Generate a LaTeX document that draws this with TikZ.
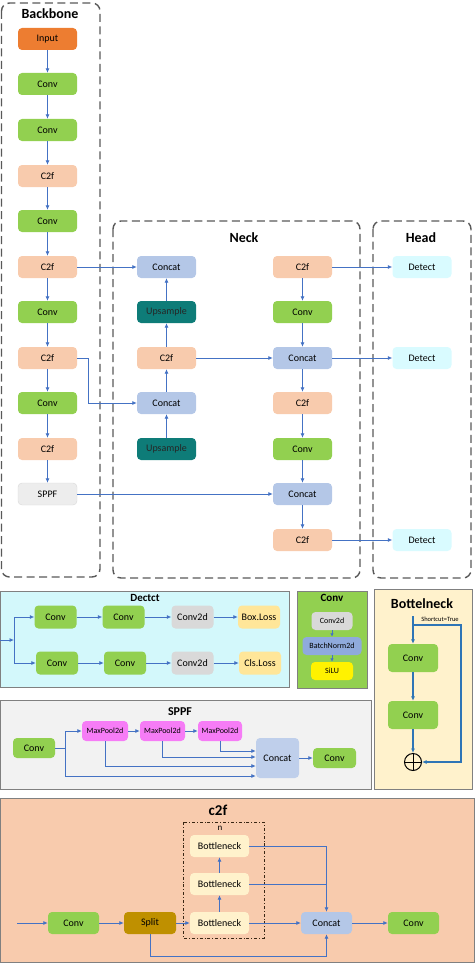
\documentclass[tikz,border=0pt]{standalone}
\usepackage{fontspec}
\setmainfont{Carlito}
\usepackage{tikz}
\usetikzlibrary{arrows.meta,positioning}
\definecolor{convgreen}{HTML}{92D050}
\definecolor{cfsalmon}{HTML}{F8CBAD}
\definecolor{catblue}{HTML}{B4C7E7}
\definecolor{upteal}{HTML}{0E7C78}
\definecolor{inorange}{HTML}{ED7D31}
\definecolor{detcyan}{HTML}{D9FBFF}
\definecolor{arrowblue}{HTML}{4472C4}
\definecolor{shortblue}{HTML}{2E75B6}
\definecolor{panelcyan}{HTML}{D3F8FB}
\definecolor{panelcream}{HTML}{FFF2CC}
\definecolor{lossyellow}{HTML}{FFE699}
\definecolor{bnblue}{HTML}{8FAADC}
\definecolor{poolpink}{HTML}{F67CF6}
\definecolor{splitgold}{HTML}{BF9000}

\begin{document}
\begin{tikzpicture}[x=1pt,y=-1pt,
          blk/.style={rounded corners=4pt,minimum width=59pt,minimum height=22pt,inner sep=1pt,
            font=\fontsize{10}{11}\selectfont},
          conv/.style={blk,fill=convgreen},
          cf/.style={blk,fill=cfsalmon},
          cat/.style={blk,fill=catblue},
          upsmp/.style={blk,fill=upteal,text=black!85},
          inputbox/.style={blk,fill=inorange},
          detect/.style={blk,fill=detcyan},
          sppfbox/.style={blk,fill=black!7,draw=black!15},
          sm/.style={blk,minimum width=42pt,minimum height=23pt},
          tiny/.style={blk,font=\fontsize{8}{9}\selectfont,minimum height=18pt},
          arr/.style={draw=arrowblue,line width=0.8pt,-{Latex[length=4.5pt,width=4pt]}},
          lin/.style={draw=arrowblue,line width=0.8pt},
          arrb/.style={draw=shortblue,line width=1.2pt,-{Latex[length=4.5pt,width=4pt]}},
          part/.style={draw=black!65,line width=1.4pt,dash pattern=on 8pt off 4.5pt,rounded corners=8pt},
          panel/.style={draw=black!50,line width=1pt},
          title/.style={font=\bfseries\fontsize{14}{16}\selectfont}]
          \useasboundingbox (0,0) rectangle (474,963);
          \begin{scope}
            \draw[part] (1.5,3) rectangle (100,577);
            \node[title] at (50,14) {Backbone};
            \node[inputbox] (input) at (47.5,39) {Input};
            \node[conv] (b1) at (47.5,84) {Conv};
            \node[conv] (b2) at (47.5,130) {Conv};
            \node[cf] (b3) at (47.5,176) {C2f};
            \node[conv] (b4) at (47.5,221) {Conv};
            \node[cf] (b5) at (47.5,267) {C2f};
            \node[conv] (b6) at (47.5,312) {Conv};
            \node[cf] (b7) at (47.5,358) {C2f};
            \node[conv] (b8) at (47.5,403) {Conv};
            \node[cf] (b9) at (47.5,449) {C2f};
            \node[sppfbox] (b10) at (47.5,494) {SPPF};
            \foreach \a/\b in {input/b1,b1/b2,b2/b3,b3/b4,b4/b5,b5/b6,b6/b7,b7/b8,b8/b9,b9/b10}
              \draw[arr] (\a) -- (\b);
          \end{scope}
          \begin{scope}
            \draw[part] (113,221) rectangle (360,578);
            \node[title] at (244,238) {Neck};
            \node[cat] (n1) at (166.5,267) {Concat};
            \node[upsmp] (n2) at (166.5,312) {Upsample};
            \node[cf] (n3) at (166.5,358) {C2f};
            \node[cat] (n4) at (166.5,403) {Concat};
            \node[upsmp] (n5) at (166.5,449) {Upsample};
            \node[cf] (m1) at (302.5,267) {C2f};
            \node[conv] (m2) at (302.5,312) {Conv};
            \node[cat] (m3) at (302.5,358) {Concat};
            \node[cf] (m4) at (302.5,403) {C2f};
            \node[conv] (m5) at (302.5,449) {Conv};
            \node[cat] (m6) at (302.5,494) {Concat};
            \node[cf] (m7) at (302.5,540) {C2f};
            \foreach \a/\b in {n5/n4,n4/n3,n3/n2,n2/n1,m1/m2,m2/m3,m3/m4,m4/m5,m5/m6,m6/m7}
              \draw[arr] (\a) -- (\b);
            \draw[arr] (n3) -- (m3);
          \end{scope}
          \begin{scope}
            \draw[part] (373,221) rectangle (471,578);
            \node[title] at (421,238) {Head};
            \node[detect] (h1) at (422,267) {Detect};
            \node[detect] (h2) at (422,358) {Detect};
            \node[detect] (h3) at (422,540) {Detect};
            \draw[arr] (m1) -- (h1);
            \draw[arr] (m3) -- (h2);
            \draw[arr] (m7) -- (h3);
          \end{scope}
          \draw[arr] (b5) -- (n1);
          \draw[arr] (b7.east) -- ++(11,0) |- (n4.west);
          \draw[arr] (b10) -- (m6);
          % detect head
          \begin{scope}
            \draw[panel,fill=panelcyan] (0,591) rectangle (289,687);
            \node[font=\bfseries\fontsize{11}{13}\selectfont] at (145,598) {Dectct};
            \node[sm,fill=convgreen] (d1) at (55.5,617) {Conv};
            \node[sm,fill=convgreen] (d2) at (123.5,617) {Conv};
            \node[sm,fill=black!15] (d3) at (192.5,617) {Conv2d};
            \node[sm,fill=lossyellow] (d4) at (259,617) {Box.Loss};
            \node[sm,fill=convgreen] (e1) at (57,663) {Conv};
            \node[sm,fill=convgreen] (e2) at (125,663) {Conv};
            \node[sm,fill=black!15] (e3) at (192.5,663) {Conv2d};
            \node[sm,fill=lossyellow] (e4) at (260,663) {Cls.Loss};
            \coordinate (din) at (0,640);
            \coordinate (dsplit) at (14,640);
            \draw[arr] (din) -- (dsplit);
            \draw[arr] (dsplit) |- (d1);
            \draw[arr] (dsplit) |- (e1);
            \foreach \a/\b in {d1/d2,d2/d3,d3/d4,e1/e2,e2/e3,e3/e4}
              \draw[arr] (\a) -- (\b);
          \end{scope}
          % conv block
          \begin{scope}
            \draw[panel,fill=convgreen] (297,591) rectangle (367,688);
            \node[font=\bfseries\fontsize{11}{13}\selectfont] at (332,598) {Conv};
            \node[tiny,fill=black!15,minimum width=41pt] (c1) at (332,621) {Conv2d};
            \node[tiny,fill=bnblue,minimum width=59pt] (c2) at (332,646) {BatchNorm2d};
            \node[tiny,fill=yellow,minimum width=42pt] (c3) at (332,671) {SiLU};
            \draw[arr,-{Latex[length=3.5pt,width=3.5pt]}] (c1) -- (c2);
            \draw[arr,-{Latex[length=3.5pt,width=3.5pt]}] (c2) -- (c3);
          \end{scope}
          % bottleneck block
          \begin{scope}
            \draw[panel,fill=panelcream] (374,589) rectangle (472,789);
            \node[title] at (422,604) {Bottelneck};
            \node[blk,fill=convgreen,minimum width=50pt,minimum height=28pt] (k1) at (413,658) {Conv};
            \node[blk,fill=convgreen,minimum width=50pt,minimum height=28pt] (k2) at (413,715) {Conv};
            \node[circle,draw,line width=1pt,minimum size=17pt,inner sep=0pt,
              path picture={\draw[line width=1pt] (path picture bounding box.north) -- (path picture bounding box.south)
                (path picture bounding box.west) -- (path picture bounding box.east);}] (kadd) at (413,762) {};
            \coordinate (ktop) at (413,616);
            \coordinate (kbr) at (413,625);
            \coordinate (kturn) at (461,762);
            \node[font=\fontsize{6.5}{7}\selectfont] at (440,619) {Shortcut=True};
            \draw[arrb] (ktop) -- (k1);
            \draw[arrb] (k1) -- (k2);
            \draw[arrb] (k2) -- (kadd);
            \draw[arrb] (kbr) -| (kturn) -- (kadd);
          \end{scope}
          % sppf block
          \begin{scope}
            \draw[panel,fill=black!5] (0,700) rectangle (371,789);
            \node[font=\bfseries\fontsize{12}{14}\selectfont] at (180,712) {SPPF};
            \node[blk,fill=convgreen,minimum width=42pt,minimum height=20pt] (s0) at (34,748) {Conv};
            \node[tiny,fill=poolpink,minimum width=46pt,minimum height=20pt] (s1) at (105,731) {MaxPool2d};
            \node[tiny,fill=poolpink,minimum width=45pt,minimum height=20pt] (s2) at (162.5,731) {MaxPool2d};
            \node[tiny,fill=poolpink,minimum width=44pt,minimum height=20pt] (s3) at (220,731) {MaxPool2d};
            \node[blk,fill=catblue!85,minimum width=43pt,minimum height=40pt] (s4) at (277.5,758) {Concat};
            \node[blk,fill=convgreen,minimum width=43pt,minimum height=20pt] (s5) at (334.5,758) {Conv};
            \coordinate (sj) at (65,748);
            \draw[lin] (s0) -- (sj);
            \draw[arr] (sj) |- (s1);
            \draw[arr] (sj) |- ([yshift=-18pt]s4.west);
            \draw[arr] (s1) -- (s2);
            \draw[arr] (s2) -- (s3);
            \draw[arr] (s1) |- ([yshift=-8pt]s4.west);
            \draw[arr] (s2) |- ([yshift=1pt]s4.west);
            \draw[arr] (s3) |- ([yshift=7pt]s4.west);
            \draw[arr] (s4) -- (s5);
          \end{scope}
          % c2f block
          \begin{scope}
            \draw[panel,fill=cfsalmon] (0,798) rectangle (474,962);
            \node[font=\bfseries\fontsize{15}{17}\selectfont] at (218,810) {c2f};
            \draw[draw=black!70!brown,line width=0.8pt,dash dot] (183,822) rectangle (264,938);
            \node[font=\fontsize{9}{10}\selectfont] at (220,828) {n};
            \node[blk,fill=panelcream] (t1) at (219.5,846) {Bottleneck};
            \node[blk,fill=panelcream] (t2) at (219.5,884) {Bottleneck};
            \node[blk,fill=panelcream] (t3) at (219.5,923) {Bottleneck};
            \node[blk,fill=convgreen,minimum width=51pt] (u0) at (73.5,923) {Conv};
            \node[blk,fill=splitgold,minimum width=52pt] (u1) at (150,923) {Split};
            \node[blk,fill=catblue,minimum width=51pt] (u2) at (326.5,923) {Concat};
            \node[blk,fill=convgreen,minimum width=51pt] (u3) at (413.5,923) {Conv};
            \coordinate (uin) at (17,923);
            \foreach \a/\b in {uin/u0,u0/u1,u1/t3,t3/u2,u2/u3,t3/t2,t2/t1}
              \draw[arr] (\a) -- (\b);
            \draw[arr] (t1) -| (u2);
            \draw[lin] (t2.east) -- (t2.east -| u2.north);
            \draw[arr] (u1.south) -- ++(0,22) -| (u2.south);
          \end{scope}
        \end{tikzpicture}
\end{document}
